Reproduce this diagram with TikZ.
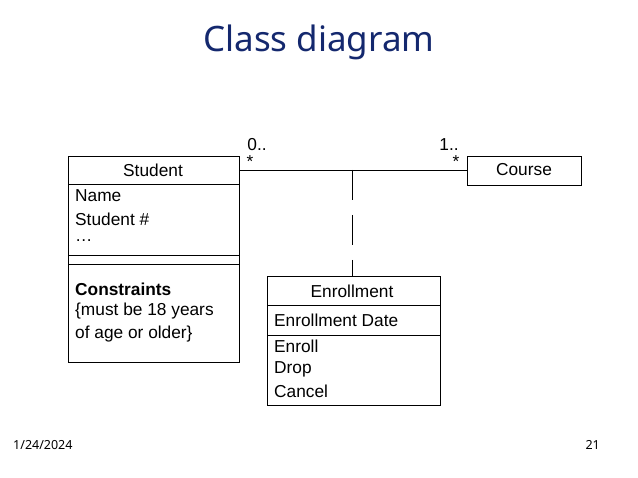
\documentclass[tikz,border=0pt]{standalone}
\usepackage{fontspec}
\setmainfont{Liberation Sans}
\newfontfamily\titlef{Noto Sans}
\definecolor{navy}{RGB}{20,40,110}
\begin{document}
\begin{tikzpicture}[x=1pt,y=-1pt,
  box/.style={draw,line width=0.8pt},
  txt/.style={anchor=west,inner sep=0,font=\fontsize{17.3}{20}\selectfont},
  ctr/.style={inner sep=0,font=\fontsize{17.3}{20}\selectfont}]
\useasboundingbox (0,0) rectangle (638,478);
\node[font=\titlef\fontsize{35}{40}\selectfont,text=navy] (title) at (319,42) {Class diagram};
% Student
\draw[box] (68,156) rectangle (239,362);
\draw[box] (68,184) -- (239,184) (68,255) -- (239,255) (68,264) -- (239,264);
\node[ctr] (s) at (153,170) {Student};
\node[txt] (s1) at (75,196) {Name};
\node[txt] (s2) at (75,219) {Student \#};
\node[txt] (s3) at (75,241) {\dots};
\node[txt] (s4) at (75,289) {\textbf{Constraints}};
\node[txt] (s5) at (75,311) {\{must be 18 years};
\node[txt] (s6) at (75,334) {of age or older\}};
\coordinate (sr) at (239,170);
% Course
\draw[box] (467,156) rectangle (581,185);
\node[ctr] (c) at (524,170) {Course};
\coordinate (cl) at (467,170);
% association
\draw[line width=0.8pt] (sr) -- (cl);
\coordinate (m) at (352,170);
\coordinate (e) at (352,276);
\draw[line width=0.8pt,dash pattern=on 30pt off 15pt] (m) -- (e);
\node[ctr] (l1) at (257,145) {0..};
\node[ctr] (l2) at (250,162) {*};
\node[ctr] (l3) at (449,145) {1..};
\node[ctr] (l4) at (456,162) {*};
% Enrollment
\draw[box] (267,276) rectangle (440,405);
\draw[box] (267,305) -- (440,305) (267,335) -- (440,335);
\node[ctr] (en) at (352,291) {Enrollment};
\node[txt] (e1) at (274,320) {Enrollment Date};
\node[txt] (e2) at (274,346) {Enroll};
\node[txt] (e3) at (274,369) {Drop};
\node[txt] (e4) at (274,391) {Cancel};
% footer
\node[anchor=west,inner sep=0,font=\titlef\fontsize{12.5}{15}\selectfont] (d) at (13,445) {1/24/2024};
\node[anchor=east,inner sep=0,font=\titlef\fontsize{12.5}{15}\selectfont] (p) at (600,445) {21};
\end{tikzpicture}
\end{document}
